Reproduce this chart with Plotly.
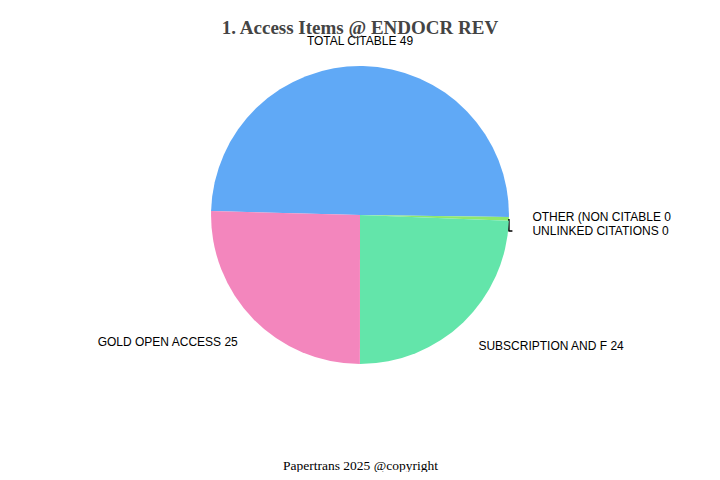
import plotly.graph_objects as go

# slices, clockwise from the left edge
labels = ["TOTAL CITABLE", "OTHER (NON CITABLE", "UNLINKED CITATIONS",
          "SUBSCRIPTION AND F", "GOLD OPEN ACCESS"]
item_counts = [49, 0, 0, 24, 25]
# sizes as drawn (the unlinked sliver is shown with a tiny size)
slice_sizes = [49, 0, 0.4, 24, 25]

palette = ["#60A9F6", "#8EE86C", "#8EE86C", "#63E5AA", "#F386BD"]

pad = "&nbsp;<br>&nbsp;<br>%{label} %{customdata}<br>&nbsp;"
side = "&nbsp;&nbsp;&nbsp;&nbsp;&nbsp;&nbsp;%{label} %{customdata}"
templates = ["", side, side, pad, pad]

fig = go.Figure()
fig.add_trace(go.Pie(
    labels=labels,
    values=slice_sizes,
    customdata=item_counts,
    texttemplate=templates,
    textposition="outside",
    sort=False,
    direction="clockwise",
    rotation=-88.5,
    marker=dict(colors=palette, line=dict(width=0)),
    outsidetextfont=dict(family="Arial", size=12, color="#000000"),
    title=dict(text=f"{labels[0]} {item_counts[0]}<br><span style='font-size:30px'>&nbsp;</span>",
               position="top center",
               font=dict(family="Arial", size=12, color="#000000")),
    domain=dict(x=[0, 1], y=[0.2328, 0.946]),
    showlegend=False,
))

fig.update_layout(
    width=704, height=464,
    title=dict(text="<b>1. Access Items @ ENDOCR REV</b>", x=0.5, xanchor="center",
               y=0.959, yanchor="middle",
               font=dict(family="Times New Roman", size=19, color="#444444")),
    margin=dict(l=0, r=0, t=0, b=0, autoexpand=False),
    paper_bgcolor="white",
    plot_bgcolor="white",
    annotations=[dict(text="Papertrans 2025 @copyright", x=0.5, y=0.013,
                      xref="paper", yref="paper", showarrow=False,
                      xanchor="center", yanchor="middle",
                      font=dict(family="Times New Roman", size=13.5, color="#000000"))],
)

fig.write_html("out.html")
